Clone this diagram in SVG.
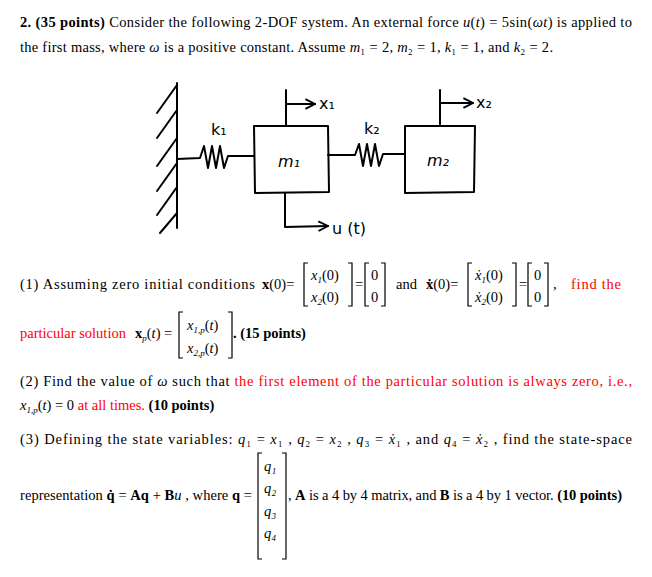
<svg xmlns="http://www.w3.org/2000/svg" width="652" height="577" viewBox="0 0 652 577">
<style>
text{font-family:"Liberation Serif","Times New Roman",serif;font-size:14.5px;fill:#000}
.r{fill:#ff0000}
.b{font-weight:bold}
.i{font-style:italic}
.h{font-family:"DejaVu Sans",sans-serif;font-size:16px}
.ln{stroke:#000;stroke-width:2;fill:none;stroke-linecap:round;stroke-linejoin:round}
.br{stroke:#000;stroke-width:1.2;fill:none}
</style>
<defs><marker id="ah" viewBox="0 0 10 10" refX="9" refY="5" markerWidth="6" markerHeight="6" orient="auto"><path d="M1,1 L9,5 L1,9" stroke="#000" stroke-width="1.6" fill="none"/></marker></defs>
<rect width="652" height="577" fill="#fff"/>
<text x="20" y="27" textLength="612" lengthAdjust="spacing"><tspan class="b">2. (35 points)</tspan> Consider the following 2-DOF system. An external force <tspan class="i">u</tspan>(<tspan class="i">t</tspan>) = 5sin(<tspan class="i">ωt</tspan>) is applied to</text>
<text x="20" y="52" textLength="533" lengthAdjust="spacing">the first mass, where <tspan class="i">ω</tspan> is a positive constant. Assume <tspan class="i">m</tspan>₁ = 2, <tspan class="i">m</tspan>₂ = 1, <tspan class="i">k</tspan>₁ = 1, and <tspan class="i">k</tspan>₂ = 2.</text>
<g id="wall"><path class="ln" d="M177,83 L177,228 M177,85 L157,113 M177,110 L157,138 M177,138 L157,166 M177,163 L157,191 M177,187 L157,215 M177,213 L160,233"/></g>
<g id="connectors">
<path class="ln" d="M177,159 L200,158 L204,146 L208,168 L212,146 L216,168 L220,146 L224,168 L228,156 L254,156"/>
<path class="ln" d="M328,155 L355,155 L359,144 L363,166 L367,144 L371,166 L375,144 L379,166 L383,154 L405,154"/>
<path class="ln" d="M286,126 L286,90 M286,104 L315,104" marker-end="url(#ah)"/>
<path class="ln" d="M285,193 L285,227 L328,226" marker-end="url(#ah)"/>
<path class="ln" d="M440,126 L440,90 M440,103 L473,103" marker-end="url(#ah)"/>
</g>
<g id="m1"><path class="ln" d="M254,126 L328,126 L329,192 L255,193 Z"/><text class="h i" x="278" y="167">m₁</text></g>
<g id="m2"><path class="ln" d="M405,126 L475,126 L474,192 L405,193 Z"/><text class="h i" x="427" y="166">m₂</text></g>
<text class="h" x="211" y="135">k₁</text>
<text class="h" x="364" y="134">k₂</text>
<text class="h" x="319" y="109">x₁</text>
<text class="h" x="476" y="108">x₂</text>
<text class="h" x="332" y="234">u (t)</text>
<!-- (1) -->
<text x="20" y="289" textLength="235" lengthAdjust="spacing">(1) Assuming zero initial conditions</text>
<text x="262" y="289"><tspan class="b">x</tspan>(0)=</text>
<path class="br" d="M308,263 h-4 v43 h4 M348,263 h4 v43 h-4"/>
<text class="i" x="311" y="280">x<tspan font-size="9" dy="3">1</tspan><tspan dy="-3" font-style="normal">(0)</tspan></text>
<text class="i" x="311" y="302">x<tspan font-size="9" dy="3">2</tspan><tspan dy="-3" font-style="normal">(0)</tspan></text>
<text x="355" y="289">=</text>
<path class="br" d="M369,263 h-4 v43 h4 M381,263 h4 v43 h-4"/>
<text x="371" y="280">0</text><text x="371" y="302">0</text>
<text x="396" y="289">and</text>
<text x="426" y="289"><tspan class="b">ẋ</tspan>(0)=</text>
<path class="br" d="M472,263 h-4 v43 h4 M512,263 h4 v43 h-4"/>
<text class="i" x="475" y="280">ẋ<tspan font-size="9" dy="3">1</tspan><tspan dy="-3" font-style="normal">(0)</tspan></text>
<text class="i" x="475" y="302">ẋ<tspan font-size="9" dy="3">2</tspan><tspan dy="-3" font-style="normal">(0)</tspan></text>
<text x="519" y="289">=</text>
<path class="br" d="M532,263 h-4 v43 h4 M544,263 h4 v43 h-4"/>
<text x="534" y="280">0</text><text x="534" y="302">0</text>
<text x="553" y="289">,</text>
<text class="r" x="571" y="289" textLength="50" lengthAdjust="spacing">find the</text>
<text class="r" x="20" y="338">particular solution</text>
<text x="135" y="338"><tspan class="b">x</tspan><tspan class="i" font-size="9" dy="3">p</tspan><tspan dy="-3">(</tspan><tspan class="i">t</tspan>) =</text>
<path class="br" d="M183,312 h-4 v46 h4 M228,312 h4 v46 h-4"/>
<text class="i" x="187" y="330">x<tspan font-size="9" dy="3">1,p</tspan><tspan dy="-3" font-style="normal">(</tspan>t<tspan font-style="normal">)</tspan></text>
<text class="i" x="187" y="353">x<tspan font-size="9" dy="3">2,p</tspan><tspan dy="-3" font-style="normal">(</tspan>t<tspan font-style="normal">)</tspan></text>
<text class="b" x="233" y="338">. (15 points)</text>
<!-- (2) -->
<text x="20" y="386" textLength="612" lengthAdjust="spacing">(2) Find the value of <tspan class="i">ω</tspan> such that <tspan class="r">the first element of the particular solution is always zero, i.e.,</tspan></text>
<text x="20" y="410"><tspan class="i">x</tspan><tspan class="i" font-size="9" dy="3">1,p</tspan><tspan dy="-3">(</tspan><tspan class="i">t</tspan>) = 0 <tspan class="r">at all times.</tspan> <tspan class="b">(10 points)</tspan></text>
<!-- (3) -->
<text x="20" y="444" textLength="612" lengthAdjust="spacing">(3) Defining the state variables: <tspan class="i">q</tspan>₁ = <tspan class="i">x</tspan>₁ , <tspan class="i">q</tspan>₂ = <tspan class="i">x</tspan>₂ , <tspan class="i">q</tspan>₃ = <tspan class="i">ẋ</tspan>₁ , and <tspan class="i">q</tspan>₄ = <tspan class="i">ẋ</tspan>₂ , find the state-space</text>
<text x="20" y="500" textLength="232" lengthAdjust="spacing">representation <tspan class="b">q̇</tspan> = <tspan class="b">Aq</tspan> + <tspan class="b">B</tspan><tspan class="i">u</tspan> , where <tspan class="b">q</tspan> =</text>
<path class="br" d="M262,453 h-4 v106 h4 M282,453 h4 v106 h-4"/>
<text class="i" x="264" y="471">q₁</text>
<text class="i" x="264" y="493">q₂</text>
<text class="i" x="264" y="516">q₃</text>
<text class="i" x="264" y="538">q₄</text>
<text x="288" y="500" textLength="334" lengthAdjust="spacing">, <tspan class="b">A</tspan> is a 4 by 4 matrix, and <tspan class="b">B</tspan> is a 4 by 1 vector. <tspan class="b">(10 points)</tspan></text>
</svg>
